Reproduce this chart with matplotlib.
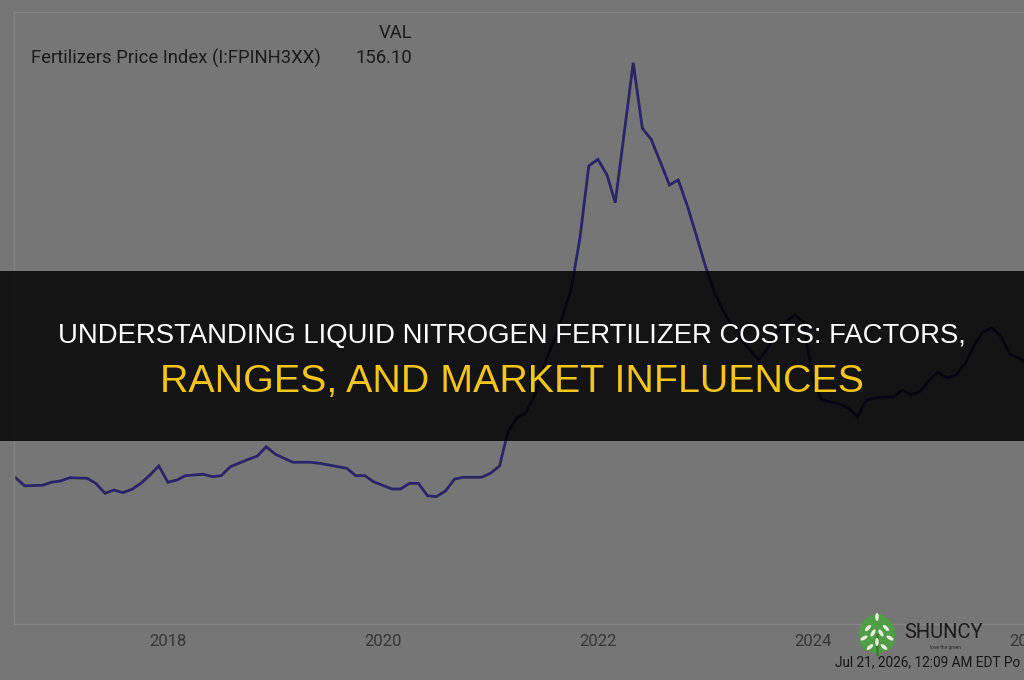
import matplotlib
matplotlib.use("Agg")
import matplotlib.pyplot as plt
import pandas as pd
from matplotlib.patches import Rectangle, Ellipse

# ---------------- data ----------------
dates_2016 = ['2016-08', '2016-09', '2016-11', '2016-12']
vals_2016 = [82.5, 77.5, 77.8, 79.7]
dates_2017 = ['2017-01', '2017-02', '2017-04', '2017-05', '2017-06', '2017-07', '2017-08', '2017-09', '2017-10', '2017-11', '2017-12']
vals_2017 = [80.5, 82.5, 82.2, 79.0, 72.8, 74.8, 73.2, 75.3, 79.0, 84.2, 89.9]
dates_2018 = ['2018-01', '2018-02', '2018-03', '2018-05', '2018-06', '2018-07', '2018-08', '2018-10', '2018-11', '2018-12']
vals_2018 = [79.7, 81.1, 83.8, 84.7, 83.2, 83.8, 89.4, 94.0, 96.1, 101.9]
dates_2019 = ['2019-01', '2019-03', '2019-05', '2019-06', '2019-09', '2019-10', '2019-11', '2019-12']
vals_2019 = [97.2, 92.2, 92.2, 91.5, 88.4, 83.8, 83.8, 80.0]
dates_2020 = ['2020-02', '2020-03', '2020-04', '2020-05', '2020-06', '2020-07', '2020-08', '2020-09', '2020-10', '2020-12']
vals_2020 = [75.5, 75.5, 79.0, 79.0, 71.3, 70.7, 74.2, 81.7, 82.8, 82.8]
dates_2021 = ['2021-%02d' % m for m in range(1, 13)]
vals_2021 = [85.3, 89.9, 111.1, 119.9, 123.0, 134.2, 152.4, 166.7, 182.4, 199.2, 232.4, 277.4]
dates_2022 = ['2022-01', '2022-02', '2022-03', '2022-05', '2022-06', '2022-07', '2022-08', '2022-09', '2022-10', '2022-11', '2022-12']
vals_2022 = [281.5, 271.7, 254.4, 341.9, 300.9, 294.0, 279.9, 265.5, 268.6, 252.4, 234.2]
dates_2023 = ['2023-%02d' % m for m in range(1, 13)]
vals_2023 = [214.9, 198.6, 187.4, 178.0, 169.9, 162.4, 156.1, 163.6, 173.0, 179.9, 184.2, 179.9]
dates_2024 = ['2024-%02d' % m for m in range(1, 13)]
vals_2024 = [143.6, 131.1, 129.9, 128.6, 126.1, 120.5, 131.1, 132.4, 133.0, 133.0, 137.4, 134.2]
dates_2025 = ['2025-%02d' % m for m in range(1, 13)]
vals_2025 = [136.7, 143.6, 148.6, 144.9, 146.7, 153.6, 164.9, 173.6, 176.1, 171.1, 159.9, 157.4]
dates_2026 = ['2026-01']
vals_2026 = [153.6]

tick_years = ['2018', '2019', '2020', '2021', '2022', '2023', '2024', '2025', '2026']
tick_labels = ['2018', '', '2020', '', '2022', '', '2024', '', '2026']

series_name = 'Fertilizers Price Index (I:FPINH3XX)'
series_value = '156.10'
value_header = 'VAL'
title_line1 = 'UNDERSTANDING LIQUID NITROGEN FERTILIZER COSTS: FACTORS,'
title_line2 = 'RANGES, AND MARKET INFLUENCES'
timestamp = 'Jul 21, 2026, 12:09 AM EDT Po'
brand = 'SHUNCY'
brand_tag = 'love the green'

dates = pd.to_datetime(dates_2016 + dates_2017 + dates_2018 + dates_2019 + dates_2020 +
                       dates_2021 + dates_2022 + dates_2023 + dates_2024 + dates_2025 + dates_2026)
values = (vals_2016 + vals_2017 + vals_2018 + vals_2019 + vals_2020 + vals_2021 +
          vals_2022 + vals_2023 + vals_2024 + vals_2025 + vals_2026)

# ---------------- figure ----------------
W, H = 1024, 680
BG = '#767676'
fig = plt.figure(figsize=(W / 100, H / 100), dpi=100, facecolor=BG)


def fx(x):
    return x / W


def fy(y):
    return 1 - y / H


ax_left, ax_right, ax_top, ax_bot = 14, 1100, 12, 624
ax = fig.add_axes([fx(ax_left), fy(ax_bot), (ax_right - ax_left) / W, (ax_bot - ax_top) / H])
ax.set_facecolor(BG)
ax.plot(dates, values, color='#2a2468', lw=2.0, solid_joinstyle='miter')
ax.set_xlim(pd.Timestamp('2016-07-27'), pd.Timestamp('2026-09-03'))
ax.set_ylim(-8.9, 373.6)
ax.set_yticks([])
ax.set_xticks(pd.to_datetime([y + '-01-01' for y in tick_years]))
ax.set_xticklabels(tick_labels, fontsize=12, color='#363636', family='Roboto')
ax.tick_params(axis='x', length=0, pad=7)
for s in ['top', 'left', 'bottom']:
    ax.spines[s].set_color('#858585')
    ax.spines[s].set_linewidth(1.0)
ax.spines['right'].set_visible(False)

renderer = fig.canvas.get_renderer()


def fit_width(t, target):
    bb = t.get_window_extent(renderer=renderer)
    t.set_fontsize(t.get_fontsize() * target / bb.width)


# legend/header text
t = fig.text(fx(31), fy(58), series_name, ha='left', va='center', color='#1b1b1b',
             family='Roboto', fontsize=14)
fit_width(t, 292)
fs = t.get_fontsize()
fig.text(fx(412), fy(58), series_value, ha='right', va='center', color='#1b1b1b',
         family='Roboto', fontsize=fs)
fig.text(fx(412), fy(33), value_header, ha='right', va='center', color='#1b1b1b',
         family='Roboto', fontsize=fs)

# bottom timestamp
ts = fig.text(fx(835), fy(662), timestamp, ha='left', va='center', color='#161616',
              family='Roboto', fontsize=11.5)
fit_width(ts, 186)

# banner overlay
fig.add_artist(Rectangle((0, fy(441)), 1, (441 - 271) / H, transform=fig.transFigure,
                         facecolor='black', edgecolor='none', alpha=0.83, zorder=5))
t1 = fig.text(0.5, fy(336), title_line1, ha='center', va='center', color='white',
              family='Liberation Sans', fontsize=20, zorder=6)
fit_width(t1, 908)
t2 = fig.text(0.5, fy(382), title_line2, ha='center', va='center', color='#f5c518',
              family='Liberation Sans', fontsize=26, zorder=6)
fit_width(t2, 705)

# brand logo
lax = fig.add_axes([fx(855), fy(658), 44 / W, 46 / H], zorder=7)
lax.set_xlim(0, 44)
lax.set_ylim(0, 46)
lax.axis('off')
green = '#4f9e45'
for (cx, cy, w, h) in [(22, 24, 36, 38), (14, 18, 18, 22), (30, 18, 18, 22), (22, 38, 14, 14)]:
    lax.add_patch(Ellipse((cx, cy), w, h, facecolor=green, edgecolor='none'))
lax.add_patch(Rectangle((20.5, 2), 3, 22, facecolor='#3f7f36', edgecolor='none'))
leaves = [(13, 30, 45), (31, 30, -45), (9, 20, 30), (35, 20, -30), (15, 11, 40),
          (29, 11, -40), (22, 41, 90), (18, 25, 60), (26, 25, -60), (22, 16, 90)]
for (cx, cy, ang) in leaves:
    lax.add_patch(Ellipse((cx, cy), 8, 3.6, angle=ang, facecolor='#e9ecdf', edgecolor='none'))

fig.text(fx(904), fy(633), brand, ha='left', va='center', color='#1a1a1a',
         family='Roboto', fontsize=14.5, zorder=7)
fig.text(fx(930), fy(647), brand_tag, ha='left', va='center', color='#2a2a2a',
         family='Roboto', fontsize=3.5, zorder=7)

fig.savefig('out.png', dpi=100, facecolor=BG)
